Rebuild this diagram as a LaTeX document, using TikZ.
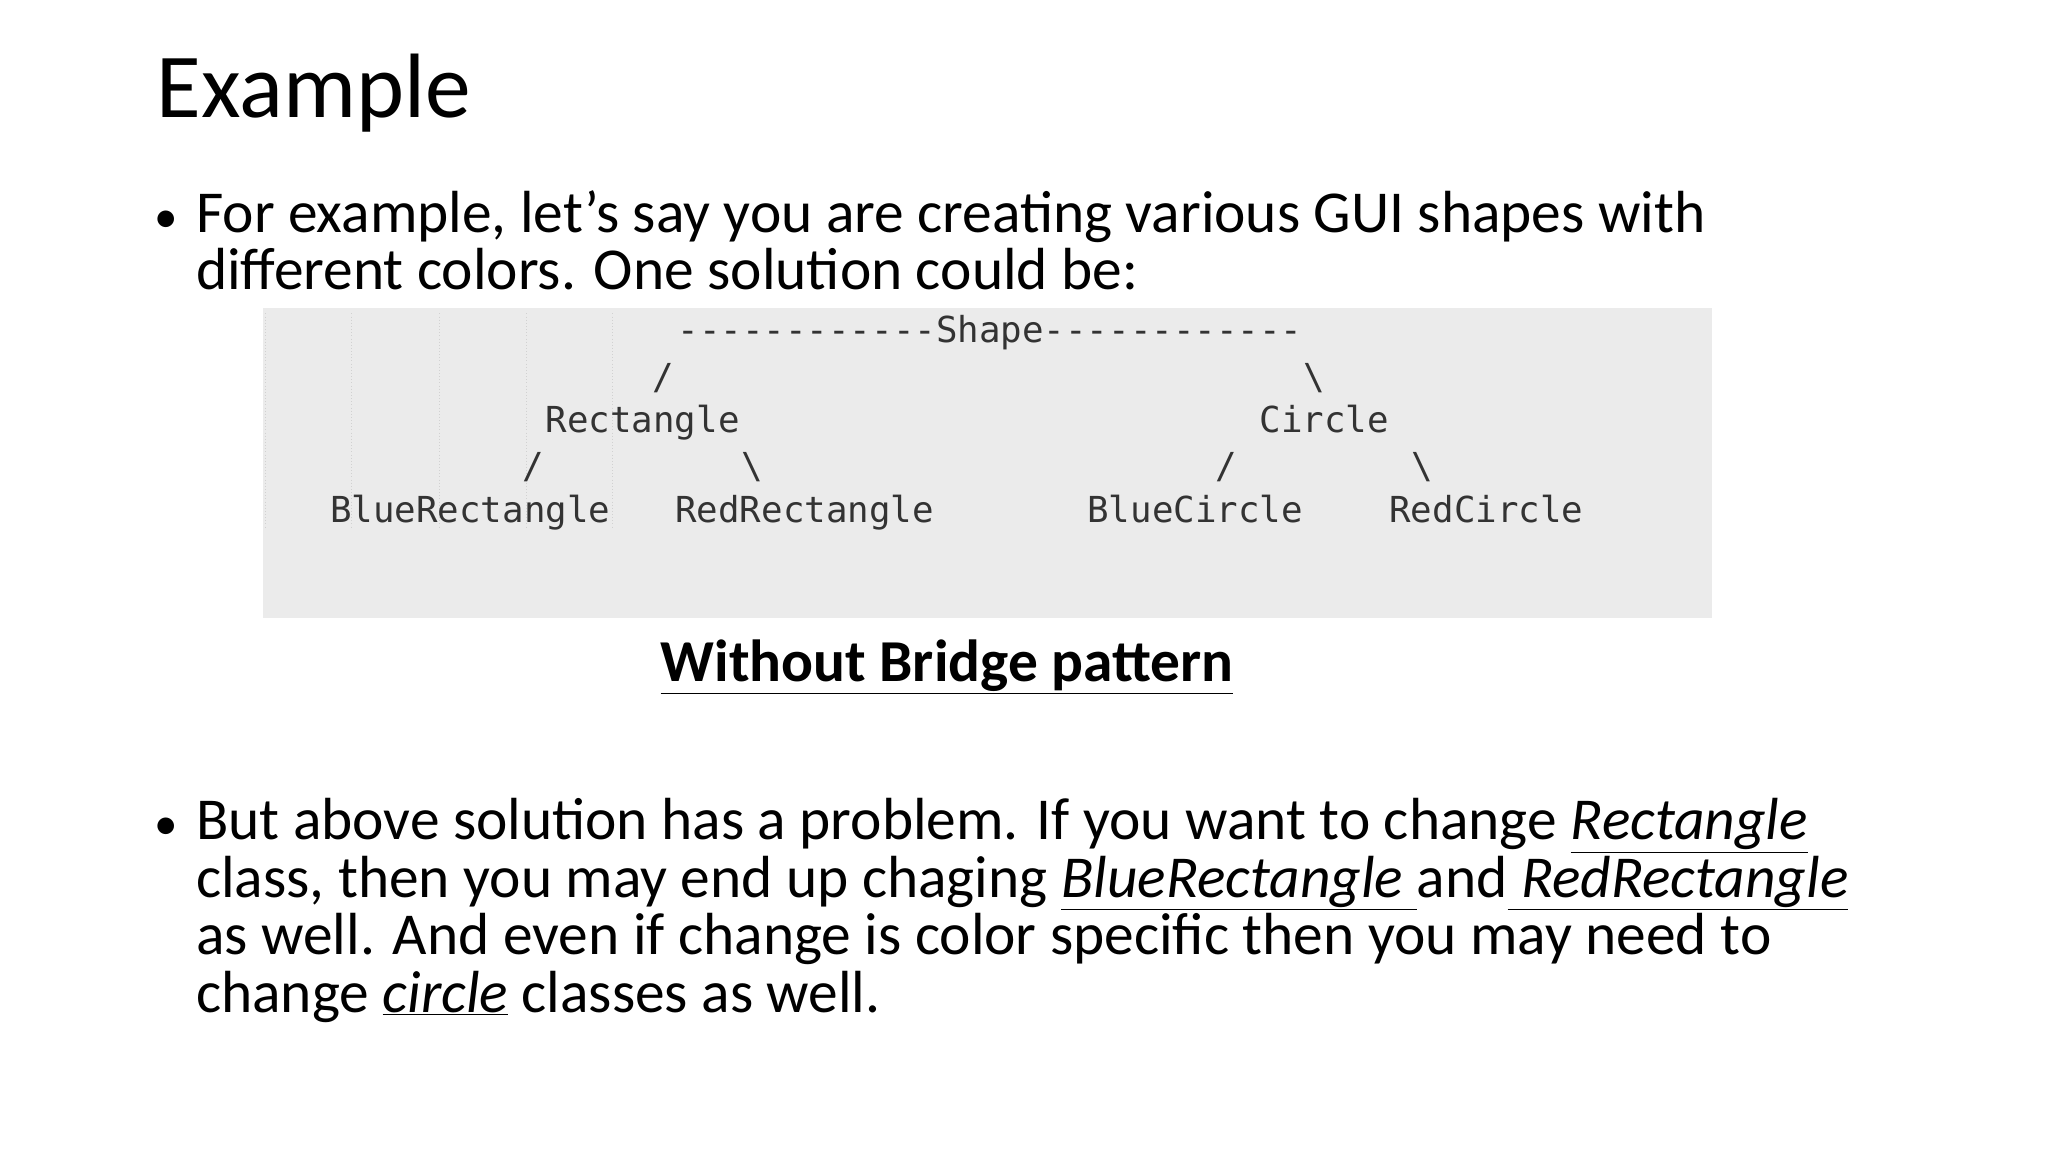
\documentclass[tikz,border=0pt]{standalone}
\usepackage{fontspec}
\setmainfont{Carlito}
\setmonofont{DejaVu Sans Mono}
\begin{document}
\begin{tikzpicture}[x=1pt,y=-1pt,
  txt/.style={anchor=base west,inner sep=0pt,font=\fontsize{45.5}{50}\selectfont},
  mono/.style={anchor=base,inner sep=0pt,font=\ttfamily\fontsize{27.4}{30}\selectfont,text=black!80}]
\useasboundingbox (0,0) rectangle (1568,882);
\fill[white] (0,0) rectangle (1568,882);
\node[txt,font=\fontsize{70}{74}\selectfont] (title) at (120,90) {Example};
\node[txt,font=\fontsize{36}{40}\selectfont] (b1) at (118,178) {•};
\node[txt] (l1) at (150,178) {For example, let’s say you are creating various GUI shapes with};
\node[txt] (l2) at (150,222) {different colors. One solution could be:};
\fill[black!8] (201,236) rectangle (1311,473);
\foreach \xx in {203,269,336,403,469}
  \draw[black!18,dotted] (\xx,240) -- (\xx,405);
\node[mono] (shape) at (758,262) {------------Shape------------};
\node[mono] (s1) at (508,298) {/};
\node[mono] (s2) at (1006,298) {\textbackslash};
\node[mono] (rect) at (492,331) {Rectangle};
\node[mono] (circ) at (1014,331) {Circle};
\node[mono] (s3) at (408,366) {/};
\node[mono] (s4) at (576,366) {\textbackslash};
\node[mono] (s5) at (939,366) {/};
\node[mono] (s6) at (1089,366) {\textbackslash};
\node[mono] (br) at (360,400) {BlueRectangle};
\node[mono] (rr) at (616,400) {RedRectangle};
\node[mono] (bc) at (915,400) {BlueCircle};
\node[mono] (rc) at (1138,400) {RedCircle};
\node[txt,anchor=base] (cap) at (725,522) {\textbf{\underline{Without Bridge pattern}}};
\node[txt,font=\fontsize{36}{40}\selectfont] (b2) at (118,643) {•};
\node[txt] (m1) at (150,643) {But above solution has a problem. If you want to change \underline{\textit{Rectangle}}};
\node[txt] (m2) at (150,687) {class, then you may end up chaging \underline{\textit{BlueRectangle\ }}and\underline{\textit{\ RedRectangle}}};
\node[txt] (m3) at (150,731) {as well. And even if change is color specific then you may need to};
\node[txt] (m4) at (150,775) {change \underline{\textit{circle}} classes as well.};
\end{tikzpicture}
\end{document}
